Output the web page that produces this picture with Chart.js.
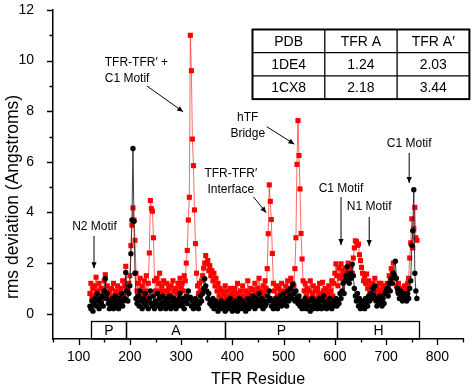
<!DOCTYPE html>
<html>
<head>
<meta charset="utf-8">
<script src="https://cdn.jsdelivr.net/npm/chart.js@4.4.0/dist/chart.umd.min.js"></script>
<style>
  html, body { margin: 0; padding: 0; background: #fff; }
</style>
</head>
<body>
<canvas id="rmsChart" width="474" height="390"></canvas>
<script>
// residues 122..760, every second residue
const firstResidue = 122;
const residueStep = 2;

// TFR A (black circles)
const blackRms = [
  0.3,0.2,0.5,0.1,0.4,0.6,0.3,0.8,0.5,0.2,
  0.6,0.4,0.7,0.3,0.9,1.38,0.6,0.8,0.4,0.2,
  0.5,0.3,0.6,0.2,0.4,0.7,0.3,0.5,0.2,0.6,
  0.4,0.8,0.3,0.5,0.6,1.63,0.9,0.5,0.8,1.1,
  2.37,3.7,6.53,3.65,1.6,0.6,0.4,0.7,0.3,0.9,
  0.5,0.2,0.6,0.4,0.8,0.3,0.5,0.2,0.6,0.9,
  0.4,0.3,0.7,0.2,0.5,0.4,0.8,0.3,0.6,0.2,
  0.4,0.7,0.3,0.5,0.2,0.6,0.4,0.3,0.7,0.2,
  0.5,0.3,0.6,0.4,0.2,0.5,0.3,0.6,0.8,0.4,
  0.3,0.6,0.2,0.5,0.7,0.4,0.9,0.6,0.65,0.3,
  0.5,0.2,0.4,0.6,0.3,0.5,0.2,0.4,0.7,0.5,
  0.8,1.0,1.38,1.1,0.9,0.6,0.8,0.4,0.5,0.3,
  0.6,0.2,0.4,0.5,0.3,0.1,0.4,0.2,0.5,0.3,
  0.2,0.4,0.1,0.3,0.5,0.2,0.4,0.6,0.3,0.1,
  0.4,0.2,0.5,0.3,0.1,0.4,0.6,0.2,0.3,0.5,
  0.2,0.4,0.1,0.3,0.6,0.2,0.4,0.5,0.3,0.7,
  0.4,0.2,0.6,0.3,0.5,0.8,0.4,0.3,0.6,0.2,
  0.5,0.3,0.4,0.7,0.5,0.9,0.6,0.3,0.5,0.2,
  0.4,0.3,0.6,0.2,0.5,0.4,0.7,0.3,0.5,0.8,
  0.4,0.6,0.3,0.9,0.5,0.7,1.0,0.6,1.17,0.8,
  0.5,0.9,0.6,0.4,0.7,0.3,0.5,0.2,0.4,0.3,
  0.6,0.2,0.4,0.3,0.5,0.1,0.3,0.6,0.2,0.4,
  0.3,0.5,0.2,0.4,0.6,0.3,0.2,0.5,0.7,0.3,
  0.4,0.2,0.5,0.3,0.6,0.4,0.2,0.5,0.3,0.4,
  0.6,0.3,0.5,0.4,0.8,0.6,0.9,1.2,0.8,1.3,
  1.5,1.86,1.4,1.2,1.6,1.4,1.96,1.5,1.0,0.7,
  0.5,0.8,0.3,0.6,0.2,0.4,0.3,0.5,0.2,0.6,
  0.4,0.3,0.7,0.5,0.8,0.6,1.0,0.7,1.1,0.5,
  0.3,0.6,0.4,0.7,0.5,0.3,0.6,0.4,0.8,0.9,
  1.0,0.7,1.2,0.9,1.4,1.2,1.6,1.5,2.07,1.4,
  1.0,0.8,0.6,0.9,0.7,0.5,0.8,0.6,0.7,0.5,
  0.8,0.6,1.0,1.3,2.7,3.28,4.9,1.6,0.9,0.6
];

// TFR A' (red squares)
const redRms = [
  0.8,1.2,0.6,1.0,0.7,1.1,1.44,0.9,0.5,1.2,
  0.7,1.0,0.6,0.9,1.3,1.54,0.8,1.1,0.6,0.9,
  0.5,1.0,0.7,1.2,0.6,0.9,0.4,1.1,0.7,0.8,
  1.0,0.6,1.3,0.8,1.1,1.87,1.0,0.9,1.2,1.5,
  2.69,3.5,4.18,3.7,2.9,1.6,0.9,1.2,0.7,1.4,
  0.8,1.1,0.6,1.3,0.9,1.5,0.7,1.2,2.4,4.47,
  4.15,4.05,3.0,1.3,0.9,1.4,0.8,1.2,1.6,0.9,
  1.1,0.7,1.3,0.9,0.6,1.2,0.8,1.0,0.6,1.1,
  0.7,1.3,0.9,0.5,1.0,0.8,1.2,0.6,1.4,1.0,
  1.2,0.9,1.5,1.3,2.0,2.5,3.7,4.6,11.0,9.6,
  6.9,5.85,4.1,2.77,1.6,1.1,0.8,1.2,0.9,1.3,
  1.5,1.8,2.0,2.3,1.97,2.1,1.7,1.9,1.5,1.7,
  1.3,1.6,1.1,1.4,0.9,1.2,0.7,1.0,0.6,0.9,
  0.5,0.8,1.1,0.6,0.9,0.4,0.7,1.0,0.5,0.8,
  0.6,1.0,0.4,0.8,1.2,0.7,0.5,0.9,0.6,1.1,
  0.7,0.5,0.9,0.6,1.3,0.8,0.5,1.0,0.7,0.95,
  0.6,1.2,0.8,0.5,1.0,1.4,0.7,0.9,0.6,1.1,
  0.8,1.3,1.0,1.78,3.16,5.09,4.44,3.72,2.38,1.2,
  0.9,0.6,1.1,0.7,1.0,0.5,0.84,1.2,0.7,0.9,
  0.6,1.1,0.8,1.3,0.7,1.0,1.4,0.8,1.2,1.1,
  1.78,3.0,5.9,7.63,6.25,4.93,3.17,2.16,1.3,0.9,
  1.2,0.7,1.0,0.6,0.9,1.3,0.5,0.8,1.1,0.6,
  0.9,0.5,1.0,0.7,1.2,0.8,0.6,1.24,0.9,0.7,
  1.0,0.6,0.8,1.1,0.5,0.9,1.3,0.7,1.2,1.6,
  1.97,1.5,1.1,1.8,1.4,1.97,1.5,1.7,1.3,1.8,
  1.4,1.6,2.0,1.8,1.5,1.9,1.6,2.2,2.6,2.88,
  2.85,2.7,2.75,2.33,2.1,1.83,1.6,1.3,1.5,1.2,
  1.57,1.0,1.3,0.8,1.1,0.7,1.2,0.9,1.4,0.8,
  1.0,0.7,1.2,0.9,1.2,0.6,1.0,0.8,1.1,0.9,
  1.2,1.0,1.5,1.3,1.78,1.6,2.0,1.5,1.4,1.1,
  0.9,1.2,0.8,1.0,0.7,0.9,0.6,1.1,0.8,1.0,
  1.2,1.4,2.2,2.8,3.75,2.6,3.36,4.2,3.0,2.9
];

const xTickValues = [100, 200, 300, 400, 500, 600, 700, 800];
const yTickValues = [0, 2, 4, 6, 8, 10, 12];

// domain bar under the trace
const domainLabels = ['P', 'A', 'P', 'H'];
const domainStart = [125, 193, 385, 605];
const domainEnd = [193, 385, 605, 765];

// inset table
const tableHeader = ['PDB', 'TFR A', 'TFR A\u2032'];
const tableRows = [
  ['1DE4', '1.24', '2.03'],
  ['1CX8', '2.18', '3.44']
];

// labels + arrows, in data units (residue, rms)
const notes = [
  { lines: ['N2 Motif'], at: [131, 3.43], align: 'center', arrow: [[130, 3.07], [130, 1.8]] },
  { lines: ['TFR-TFR\u2032 +', 'C1 Motif'], at: [151, 9.9], align: 'left', arrow: [[233, 9.0], [304, 7.98]] },
  { lines: ['hTF', 'Bridge'], at: [430, 7.73], align: 'center', arrow: [[467, 7.39], [521, 6.7]] },
  { lines: ['TFR-TFR\u2032', 'Interface'], at: [397, 5.52], align: 'center', arrow: [[441, 4.62], [466, 3.99]] },
  { lines: ['C1 Motif'], at: [612, 4.93], align: 'center', arrow: [[612, 4.61], [612, 2.71]] },
  { lines: ['N1 Motif'], at: [667, 4.22], align: 'center', arrow: [[667, 3.82], [667, 2.67]] },
  { lines: ['C1 Motif'], at: [745, 6.7], align: 'center', arrow: [[745, 6.35], [745, 5.16]] }
];

const FONT = 'Liberation Sans, Arial, sans-serif';

const residues = blackRms.map((_, i) => firstResidue + residueStep * i);
const toPoints = vals => vals.map((v, i) => ({ x: residues[i], y: v }));

function arrow(ctx, x0, y0, x1, y1) {
    ctx.beginPath();
    ctx.moveTo(x0, y0);
    ctx.lineTo(x1, y1);
    ctx.stroke();
    const a = Math.atan2(y1 - y0, x1 - x0);
    const len = 6, half = 2.6;
    ctx.beginPath();
    ctx.moveTo(x1, y1);
    ctx.lineTo(x1 - len * Math.cos(a) + half * Math.sin(a), y1 - len * Math.sin(a) - half * Math.cos(a));
    ctx.lineTo(x1 - len * Math.cos(a) - half * Math.sin(a), y1 - len * Math.sin(a) + half * Math.cos(a));
    ctx.closePath();
    ctx.fill();
}

const extras = {
    id: 'extras',
    afterDraw(chart) {
        const { ctx, chartArea: area, scales: { x, y } } = chart;
        ctx.save();
        ctx.strokeStyle = '#000';
        ctx.fillStyle = '#000';

        // tick marks (major + minor), outward
        ctx.lineWidth = 1.3;
        ctx.beginPath();
        for (let v = 50; v <= 850; v += 50) {
            const px = Math.round(x.getPixelForValue(v)) + 0.5;
            ctx.moveTo(px, area.bottom);
            ctx.lineTo(px, area.bottom + (v % 100 === 0 ? 6 : 3.5));
        }
        for (let v = 0; v <= 12; v++) {
            const py = Math.round(y.getPixelForValue(v)) + 0.5;
            ctx.moveTo(area.left, py);
            ctx.lineTo(area.left - (v % 2 === 0 ? 6 : 3.5), py);
        }
        ctx.stroke();

        // domain boxes
        ctx.lineWidth = 1.3;
        ctx.font = '14px ' + FONT;
        ctx.textAlign = 'center';
        ctx.textBaseline = 'middle';
        const boxTop = Math.round(y.getPixelForValue(-0.28)) + 0.5;
        domainLabels.forEach((lab, i) => {
            const x0 = Math.round(x.getPixelForValue(domainStart[i])) + 0.5;
            const x1 = Math.round(x.getPixelForValue(domainEnd[i])) + 0.5;
            ctx.strokeRect(x0, boxTop, x1 - x0, area.bottom - boxTop);
            ctx.fillText(lab, (x0 + x1) / 2, (boxTop + area.bottom) / 2 + 1);
        });

        // annotations
        ctx.font = '12px ' + FONT;
        ctx.lineWidth = 1;
        notes.forEach(n => {
            const tx = x.getPixelForValue(n.at[0]);
            const ty = y.getPixelForValue(n.at[1]);
            ctx.textAlign = n.align;
            n.lines.forEach((line, k) => ctx.fillText(line, tx, ty + k * 15.5));
            const [a, b] = n.arrow;
            arrow(ctx, x.getPixelForValue(a[0]), y.getPixelForValue(a[1]),
                  x.getPixelForValue(b[0]), y.getPixelForValue(b[1]));
        });

        // inset table
        const tl = 252.5, tt = 29.5, cw = 72.3, rh = 23.2;
        const all = [tableHeader].concat(tableRows);
        ctx.fillStyle = '#fff';
        ctx.fillRect(tl, tt, cw * 3, rh * 3);
        ctx.fillStyle = '#000';
        ctx.lineWidth = 1.3;
        ctx.beginPath();
        for (let r = 1; r < 3; r++) { ctx.moveTo(tl, tt + r * rh); ctx.lineTo(tl + 3 * cw, tt + r * rh); }
        for (let c = 1; c < 3; c++) { ctx.moveTo(tl + c * cw, tt); ctx.lineTo(tl + c * cw, tt + 3 * rh); }
        ctx.stroke();
        ctx.lineWidth = 2;
        ctx.strokeRect(tl, tt, cw * 3, rh * 3);
        ctx.font = '14px ' + FONT;
        ctx.textAlign = 'center';
        all.forEach((row, r) => row.forEach((cell, c) => {
            ctx.fillText(cell, tl + (c + 0.5) * cw, tt + (r + 0.5) * rh + 1);
        }));

        // axis titles
        ctx.font = '16px ' + FONT;
        ctx.fillText('TFR Residue', (area.left + area.right) / 2, 380);
        ctx.save();
        ctx.translate(13, 197);
        ctx.rotate(-Math.PI / 2);
        ctx.font = '17.5px ' + FONT;
        ctx.fillText('rms deviation (Angstroms)', 0, 0);
        ctx.restore();

        ctx.restore();
    }
};

new Chart(document.getElementById('rmsChart'), {
    type: 'line',
    data: {
        datasets: [{
            label: 'TFR A',
            data: toPoints(blackRms),
            borderColor: 'rgba(30,30,30,0.85)',
            borderWidth: 1,
            pointStyle: 'circle',
            pointRadius: 2.7,
            pointBorderWidth: 0,
            pointBackgroundColor: '#000'
        }, {
            label: 'TFR A\u2032',
            data: toPoints(redRms),
            borderColor: 'rgba(255,40,40,0.7)',
            borderWidth: 1,
            pointStyle: 'rect',
            pointRadius: 3.6,
            pointBorderWidth: 0,
            pointBackgroundColor: '#ff0000'
        }]
    },
    options: {
        responsive: false,
        animation: false,
        layout: { padding: { top: 10, right: 11, left: 0, bottom: 0 } },
        plugins: { legend: { display: false }, tooltip: { enabled: false } },
        scales: {
            x: {
                type: 'linear',
                min: 50,
                max: 850,
                afterBuildTicks: s => { s.ticks = xTickValues.map(v => ({ value: v })); },
                afterFit: s => { s.height = 51; s.paddingLeft = 0; s.paddingRight = 0; },
                grid: { display: false },
                border: { display: true, color: '#000', width: 1.5 },
                ticks: { color: '#000', font: { size: 14, family: FONT }, padding: 2, maxRotation: 0, autoSkip: false }
            },
            y: {
                min: -1,
                max: 12,
                afterBuildTicks: s => { s.ticks = yTickValues.map(v => ({ value: v })); },
                afterFit: s => { s.width = 53; s.paddingTop = 0; s.paddingBottom = 0; },
                grid: { display: false },
                border: { display: true, color: '#000', width: 1.5 },
                ticks: { color: '#000', font: { size: 14, family: FONT }, padding: 11 }
            }
        }
    },
    plugins: [extras]
});
</script>
</body>
</html>
